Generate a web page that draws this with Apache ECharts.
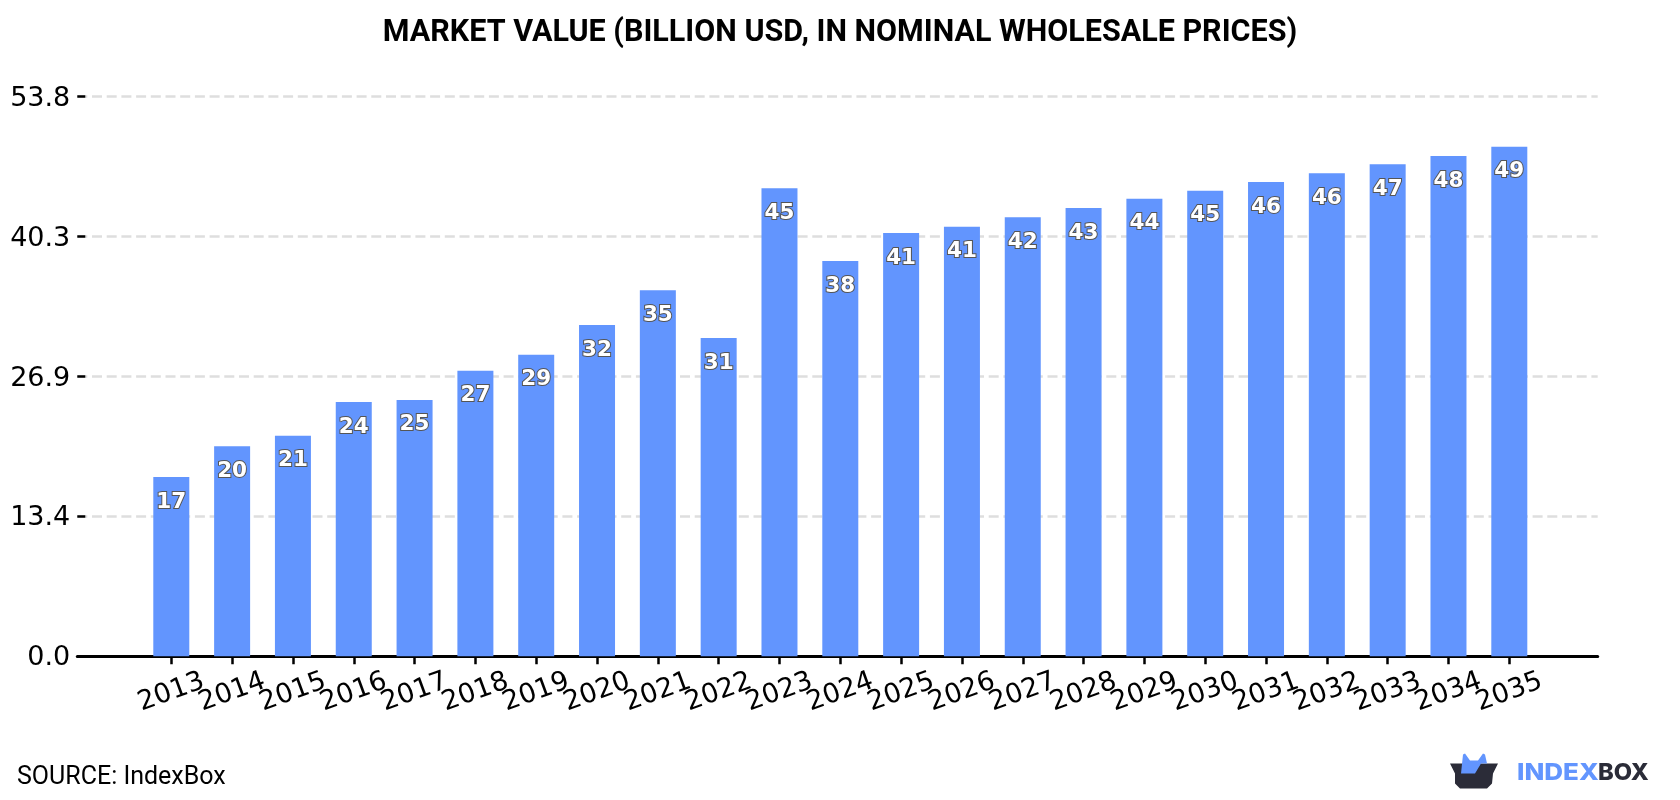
<!DOCTYPE html>
<html>
<head>
<meta charset="utf-8">
<style>html,body{margin:0;padding:0;background:#fff}#chart{width:1680px;height:800px}</style>
<script src="https://cdn.jsdelivr.net/npm/echarts@6/dist/echarts.min.js"></script>
</head>
<body>
<div id="chart"></div>
<script>
// Market value by year, billion USD
const years = [2013,2014,2015,2016,2017,2018,2019,2020,2021,2022,2023,2024,2025,2026,2027,2028,2029,2030,2031,2032,2033,2034,2035];
const marketValue = [17.24,20.2,21.2,24.45,24.65,27.45,29.0,31.85,35.2,30.6,45.0,38.0,40.7,41.3,42.2,43.1,44.0,44.75,45.6,46.45,47.3,48.1,49.0];
const yTickLabels = ['0.0','13.4','26.9','40.3','53.8'];
const yStep = 13.45;
const yTop = 53.8;
const titleText = 'MARKET VALUE (BILLION USD, IN NOMINAL WHOLESALE PRICES)';
const sourceText = 'SOURCE: IndexBox';

const BLUE = '#6295fe';
const INK = '#2b2c38';
const SANS = '"DejaVu Sans"';

// Horizontal scale padding on either side of the first and last year
const xMin = 2011.4544;
const xMax = 2036.4535;

// Box-with-ears logo, in local pixels
const logoBox = [[0,6],[48,6],[43,16],[42,26],[37,31],[10,31],[5,26],[5,16]];
const logoEars = [[11,16],[13,-3],[15,-4],[20,3],[28,3],[33,-4],[35,-3],[37,6],[31,6],[25,16]];

const chart = echarts.init(document.getElementById('chart'), null, {renderer: 'canvas'});
chart.setOption({
  animation: false,
  backgroundColor: '#fff',
  title: {
    text: titleText,
    left: 'center',
    top: 13,
    textStyle: {fontFamily: 'Roboto', fontWeight: 700, fontSize: 30.5, color: '#000'}
  },
  grid: {left: 77.3, right: 82.3, top: 96.7, bottom: 143.7, containLabel: false},
  xAxis: {
    type: 'value',
    min: xMin,
    max: xMax,
    splitLine: {show: false},
    axisLine: {show: true, onZero: false, lineStyle: {color: '#000', width: 3}},
    axisTick: {show: true, customValues: years, length: 8, lineStyle: {color: '#000', width: 2.5}},
    axisLabel: {
      show: true,
      // The scale ends carry empty, hidden labels so every year keeps its own
      customValues: [xMin, ...years, xMax],
      rotate: 20,
      margin: 36,
      align: 'center',
      verticalAlign: 'middle',
      hideOverlap: false,
      showMinLabel: false,
      showMaxLabel: false,
      fontFamily: SANS,
      fontSize: 27,
      color: '#000',
      formatter: v => years.includes(v) ? String(v) : ''
    }
  },
  yAxis: {
    type: 'value',
    min: 0,
    max: yTop,
    interval: yStep,
    axisLine: {show: false},
    axisTick: {show: true, inside: true, length: 8, lineStyle: {color: '#000', width: 2.5}},
    axisLabel: {
      margin: 7,
      verticalAlign: 'top',
      lineHeight: 4,
      fontFamily: SANS,
      fontSize: 27,
      color: '#000',
      showMinLabel: true,
      showMaxLabel: true,
      formatter: v => yTickLabels[Math.round(v / yStep)]
    },
    splitLine: {
      show: true,
      lineStyle: {color: '#dedede', width: 2.5, type: [10, 4.7]}
    }
  },
  series: [{
    type: 'bar',
    barWidth: 36,
    z: 3,
    itemStyle: {color: BLUE},
    data: years.map((y, i) => [y, marketValue[i]]),
    label: {
      show: true,
      position: 'insideTop',
      distance: 14,
      fontFamily: SANS,
      fontWeight: 700,
      fontSize: 21.5,
      color: '#fff',
      textBorderColor: '#555',
      textBorderWidth: 2,
      formatter: p => String(Math.round(p.value[1]))
    }
  }],
  graphic: [
    {type: 'text', left: 17, top: 765, style: {text: sourceText, fontFamily: 'Roboto', fontSize: 25, fill: '#000'}},
    {type: 'group', x: 1450, y: 745.5, children: [
      {type: 'polygon', shape: {points: logoBox}, style: {fill: INK}, x: 0, y: 12},
      {type: 'polygon', shape: {points: logoEars}, style: {fill: BLUE}, x: 0, y: 12}
    ]},
    {type: 'text', x: 1517, y: 762, scaleX: 1.13, style: {text: 'INDEX', fontFamily: 'Inter', fontWeight: 800, fontSize: 23, fill: BLUE}},
    {type: 'text', x: 1598, y: 762, scaleX: 1.03, style: {text: 'BOX', fontFamily: 'Inter', fontWeight: 800, fontSize: 23, fill: INK}}
  ]
});
</script>
</body>
</html>
